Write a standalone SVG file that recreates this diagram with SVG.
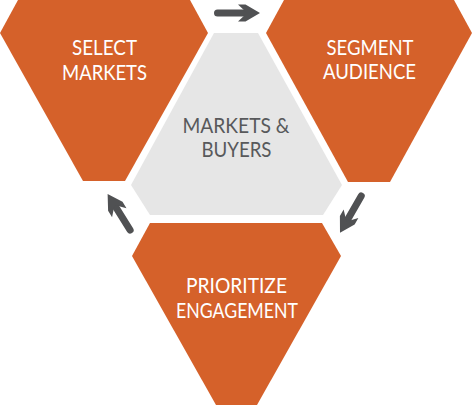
<svg xmlns="http://www.w3.org/2000/svg" width="474" height="405" viewBox="0 0 474 405">
<style>
.hex{fill:#D5612A}
.core{fill:#E6E6E6}
.lbl{font-family:Lato,"Liberation Sans",sans-serif;font-size:21px;text-anchor:middle;fill:#FFFFFF}
.lbl.dark{fill:#58595B}
.arr-shaft{fill:none;stroke:#505153;stroke-width:7;stroke-linecap:round}
.arr-head{fill:#505153}
</style>
<defs>
<g id="arrow">
<path class="arr-shaft" d="M3.5,0 H32"/>
<polygon class="arr-head" points="24,-8.5 31.5,-8.5 46,0 31.5,8.5 24,8.5 33,0"/>
</g>
</defs>
<rect width="474" height="405" fill="#FFFFFF"/>
<g id="node-select">
<polygon class="hex" points="0,33 18,0 190,0 208,33 125,181 83,181"/>
<text class="lbl" x="104.5" y="55" textLength="65" lengthAdjust="spacingAndGlyphs">SELECT</text>
<text class="lbl" x="104.5" y="80" textLength="85" lengthAdjust="spacingAndGlyphs">MARKETS</text>
</g>
<g id="node-segment">
<polygon class="hex" points="266,33 284,0 454,0 472,33 390,182 348,182"/>
<text class="lbl" x="370" y="55" textLength="87" lengthAdjust="spacingAndGlyphs">SEGMENT</text>
<text class="lbl" x="369.5" y="79" textLength="93" lengthAdjust="spacingAndGlyphs">AUDIENCE</text>
</g>
<g id="node-core">
<polygon class="core" points="214,33 258,33 342,185 323,215 150,215 131,185"/>
<text class="lbl dark" x="236" y="133" textLength="107" lengthAdjust="spacingAndGlyphs">MARKETS &amp;</text>
<text class="lbl dark" x="236.5" y="157" textLength="70" lengthAdjust="spacingAndGlyphs">BUYERS</text>
</g>
<g id="node-prioritize">
<polygon class="hex" points="150,223 322,223 341,256 257,405 216,405 132,256"/>
<text class="lbl" x="236.5" y="293" textLength="101" lengthAdjust="spacingAndGlyphs">PRIORITIZE</text>
<text class="lbl" x="237" y="318" textLength="122" lengthAdjust="spacingAndGlyphs">ENGAGEMENT</text>
</g>
<g id="connectors">
<use href="#arrow" transform="translate(214,13)"/>
<use href="#arrow" transform="translate(363,193) rotate(120)"/>
<use href="#arrow" transform="translate(132,233) rotate(-122)"/>
</g>
</svg>
